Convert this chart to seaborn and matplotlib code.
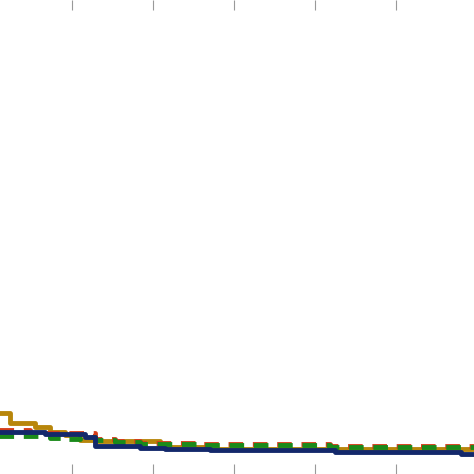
import numpy as np
import pandas as pd
import matplotlib
matplotlib.use("Agg")
import matplotlib.pyplot as plt
import seaborn as sns

# step breakpoints (x) and values (y)
gold_x = [0, 23, 54, 73, 91, 110, 128, 209, 270, 610]
gold_y = [0.129, 0.108, 0.099, 0.089, 0.082, 0.072, 0.070, 0.057, 0.053, 0.053]
red_x = [0, 48, 128, 153, 184, 258, 418, 610]
red_y = [0.093, 0.087, 0.074, 0.070, 0.065, 0.063, 0.059, 0.059]
green_x = [0, 73, 91, 110, 128, 153, 184, 258, 418, 610]
green_y = [0.080, 0.076, 0.074, 0.078, 0.072, 0.068, 0.064, 0.062, 0.058, 0.058]
navy_x = [0, 67, 116, 128, 184, 215, 270, 425, 580, 610]
navy_y = [0.089, 0.084, 0.078, 0.059, 0.055, 0.053, 0.051, 0.046, 0.042, 0.042]

sns.set_style("white")
fig = plt.figure(figsize=(4.74, 4.74), dpi=100)
ax = fig.add_axes([0, 0, 1, 1])

series = [
    (gold_x, gold_y, "#b8860b", "-"),
    (red_x, red_y, "#d43d1a", (0, (3, 2))),
    (green_x, green_y, "#1a8a1a", (0, (3, 2))),
    (navy_x, navy_y, "#13286b", "-"),
]
for xs, ys, c, ls in series:
    df = pd.DataFrame({"x": xs, "y": ys})
    sns.lineplot(data=df, x="x", y="y", ax=ax, color=c, linewidth=3.5,
                 linestyle=ls, drawstyle="steps-post", estimator=None)

ax.set_xlim(11.1, 596.1)
ax.set_ylim(0, 1)
ax.set_xticks([100, 200, 300, 400, 500])
ax.set_yticks([])
ax.tick_params(axis="x", direction="in", top=True, bottom=True,
               labelbottom=False, length=7, color="#999999")
ax.set_xlabel("")
ax.set_ylabel("")
for s in ax.spines.values():
    s.set_visible(False)
fig.savefig("out.png", dpi=100)
